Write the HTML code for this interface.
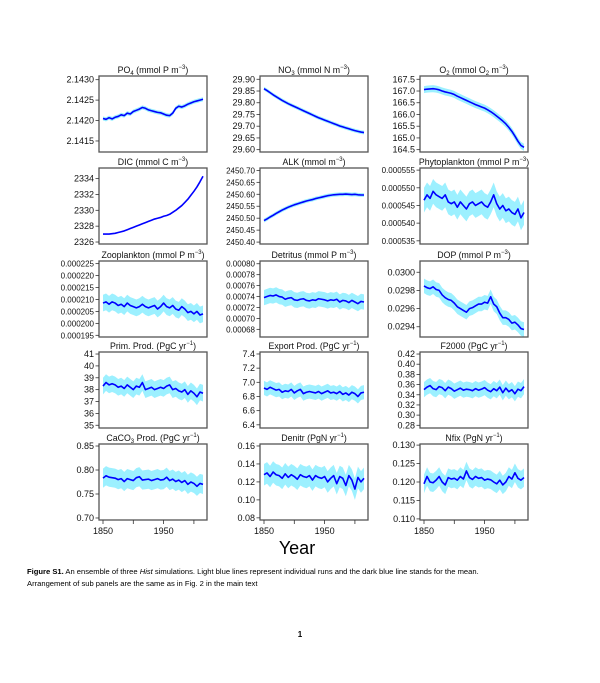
<!DOCTYPE html>
<html><head><meta charset="utf-8">
<style>
html,body{margin:0;padding:0;background:#fff;}
body{width:600px;height:683px;position:relative;overflow:hidden;}
svg{position:absolute;left:0;top:0;}
text{font-family:"Liberation Sans",sans-serif;}
</style></head>
<body>
<svg id="fig" width="600" height="683" viewBox="0 0 600 683">
<text x="297" y="554" font-size="18" text-anchor="middle">Year</text>
<text x="27" y="574" font-size="7.6" font-family="Liberation Serif"><tspan font-weight="bold">Figure S1.</tspan> An ensemble of three <tspan font-style="italic">Hist</tspan> simulations. Light blue lines represent individual runs and the dark blue line stands for the mean.</text>
<text x="27" y="586" font-size="7.6" font-family="Liberation Serif">Arrangement of sub panels are the same as in Fig. 2 in the main text</text>
<text x="300" y="637" font-size="8" font-weight="bold" font-family="Liberation Serif" text-anchor="middle">1</text>
</svg>
<script>
const years=[1850,1855,1860,1865,1870,1875,1880,1885,1890,1895,1900,1905,1910,1915,1920,1925,1930,1935,1940,1945,1950,1955,1960,1965,1970,1975,1980,1985,1990,1995,2000,2005,2010,2015];
const xTickYears=[1850,1900,1950,2000];
const xTickLabels=["1850","","1950",""];
const po4=[2.14205,2.14203,2.14207,2.14204,2.14208,2.14210,2.14214,2.14212,2.14218,2.14216,2.14222,2.14225,2.14228,2.14232,2.14230,2.14226,2.14224,2.14222,2.14220,2.14219,2.14216,2.14213,2.14212,2.14218,2.14230,2.14235,2.14233,2.14236,2.14240,2.14243,2.14246,2.14248,2.14250,2.14252];
const no3=[29.860,29.852,29.843,29.834,29.826,29.818,29.810,29.803,29.796,29.790,29.784,29.778,29.772,29.766,29.760,29.754,29.748,29.742,29.736,29.731,29.726,29.721,29.716,29.711,29.706,29.701,29.697,29.693,29.689,29.685,29.681,29.678,29.675,29.673];
const o2=[167.06,167.08,167.09,167.10,167.08,167.05,167.00,166.96,166.93,166.90,166.85,166.78,166.72,166.66,166.60,166.54,166.48,166.42,166.37,166.32,166.27,166.20,166.12,166.03,165.93,165.83,165.72,165.60,165.45,165.28,165.08,164.86,164.68,164.60];
const dic=[2327.0,2327.0,2327.0,2327.05,2327.1,2327.2,2327.3,2327.4,2327.55,2327.7,2327.85,2328.0,2328.15,2328.3,2328.45,2328.6,2328.75,2328.9,2329.0,2329.1,2329.25,2329.35,2329.5,2329.75,2330.0,2330.3,2330.6,2331.0,2331.4,2331.9,2332.4,2332.95,2333.6,2334.3];
const alk=[2450.490,2450.497,2450.505,2450.512,2450.520,2450.527,2450.534,2450.540,2450.546,2450.551,2450.556,2450.560,2450.564,2450.568,2450.572,2450.575,2450.578,2450.582,2450.585,2450.588,2450.591,2450.594,2450.596,2450.598,2450.599,2450.600,2450.600,2450.601,2450.600,2450.599,2450.600,2450.598,2450.597,2450.597];
const phyto=[546.5e-6,548e-6,547e-6,549e-6,548e-6,547.5e-6,547e-6,548e-6,546e-6,545.5e-6,546e-6,544.5e-6,546e-6,545e-6,544e-6,545.5e-6,546e-6,545e-6,545.5e-6,546e-6,545e-6,544.5e-6,546e-6,548e-6,545.5e-6,544e-6,545e-6,543.5e-6,544e-6,543e-6,542.5e-6,544e-6,541.5e-6,543e-6];
const zoo=[208.5e-6,209e-6,208e-6,209e-6,208.5e-6,207.5e-6,208e-6,207e-6,208.5e-6,207.5e-6,207e-6,206.5e-6,207e-6,208e-6,207e-6,206.5e-6,207e-6,207.5e-6,206e-6,207e-6,208.5e-6,207e-6,206.5e-6,207.5e-6,206e-6,205.5e-6,207e-6,206e-6,204.5e-6,205e-6,204e-6,205e-6,203.5e-6,204e-6];
const detritus=[738e-6,740e-6,742e-6,741e-6,743e-6,740e-6,739e-6,735e-6,737e-6,738e-6,734e-6,733e-6,735e-6,736e-6,733e-6,732e-6,734e-6,733e-6,736e-6,735e-6,734e-6,732e-6,734e-6,733e-6,735e-6,730e-6,733e-6,732e-6,729e-6,733e-6,730e-6,727e-6,731e-6,730e-6];
const dop=[0.02985,0.02983,0.02982,0.02984,0.02981,0.02980,0.02975,0.02972,0.02970,0.02969,0.02966,0.02962,0.02960,0.02958,0.02956,0.02960,0.02961,0.02963,0.02965,0.02965,0.02967,0.02966,0.02973,0.02965,0.02962,0.02955,0.02950,0.02950,0.02948,0.02944,0.02945,0.02942,0.02938,0.02937];
const primProd=[38.3,38.6,38.4,38.5,38.4,38.2,38.3,38.1,38.4,38.2,38.0,38.3,38.2,38.6,38.0,38.1,38.2,38.0,38.1,38.2,38.1,38.3,38.4,38.0,38.1,37.9,37.8,38.0,37.6,37.9,37.7,37.4,37.8,37.7];
const exportProd=[6.92,6.90,6.93,6.91,6.89,6.90,6.86,6.88,6.87,6.90,6.85,6.88,6.90,6.84,6.86,6.87,6.86,6.85,6.87,6.84,6.86,6.88,6.85,6.86,6.84,6.87,6.83,6.85,6.82,6.86,6.84,6.80,6.85,6.86];
const f2000=[0.350,0.355,0.358,0.352,0.350,0.356,0.354,0.348,0.355,0.352,0.347,0.350,0.353,0.349,0.351,0.350,0.348,0.352,0.349,0.351,0.354,0.349,0.346,0.352,0.348,0.355,0.344,0.353,0.346,0.350,0.342,0.351,0.348,0.356];
const caco3=[0.783,0.788,0.785,0.784,0.783,0.780,0.782,0.776,0.782,0.780,0.778,0.784,0.786,0.779,0.780,0.781,0.778,0.780,0.782,0.779,0.780,0.785,0.778,0.781,0.776,0.779,0.774,0.778,0.770,0.775,0.772,0.766,0.772,0.770];
const denitr=[0.128,0.130,0.126,0.131,0.128,0.127,0.124,0.129,0.125,0.128,0.126,0.123,0.128,0.126,0.125,0.127,0.122,0.127,0.125,0.124,0.126,0.120,0.124,0.127,0.118,0.126,0.124,0.116,0.127,0.122,0.112,0.125,0.120,0.124];
const nfix=[0.1195,0.1215,0.1200,0.1198,0.1205,0.1215,0.1200,0.1192,0.1212,0.1208,0.1210,0.1205,0.1215,0.1208,0.1230,0.1212,0.1207,0.1215,0.1210,0.1212,0.1205,0.1208,0.1206,0.1200,0.1195,0.1205,0.1192,0.1200,0.1215,0.1208,0.1225,0.1210,0.1205,0.1212];
const runSpreads=[0.00005,0.008,0.15,0.05,0.008,3.5e-6,3.5e-6,14e-6,0.00008,0.7,0.1,0.015,0.02,0.012,0.0025];
const tPO4=["2.1415","2.1420","2.1425","2.1430"];
const tNO3=["29.60","29.65","29.70","29.75","29.80","29.85","29.90"];
const tO2=["164.5","165.0","165.5","166.0","166.5","167.0","167.5"];
const tDIC=["2326","2328","2330","2332","2334"];
const tALK=["2450.40","2450.45","2450.50","2450.55","2450.60","2450.65","2450.70"];
const tPhyto=["0.000535","0.000540","0.000545","0.000550","0.000555"];
const tZoo=["0.000195","0.000200","0.000205","0.000210","0.000215","0.000220","0.000225"];
const tDet=["0.00068","0.00070","0.00072","0.00074","0.00076","0.00078","0.00080"];
const tDOP=["0.0294","0.0296","0.0298","0.0300"];
const tPrim=["35","36","37","38","39","40","41"];
const tExp=["6.4","6.6","6.8","7.0","7.2","7.4"];
const tF=["0.28","0.30","0.32","0.34","0.36","0.38","0.40","0.42"];
const tCa=["0.70","0.75","0.80","0.85"];
const tDen=["0.08","0.10","0.12","0.14","0.16"];
const tNfix=["0.110","0.115","0.120","0.125","0.130"];

const NS="http://www.w3.org/2000/svg";
const svg=document.getElementById('fig');
const colX=[99,260,420], rowY=[76,168,261,352,444], BW=108, BH=76;
const XMIN=1843.4, XMAX=2021.6;
const panels=[
 [[["PO",0],["4",1],[" (mmol P m",0],["−3",2],[")",0]],po4,tPO4,2.14123,2.14309,"po4"],
 [[["NO",0],["3",1],[" (mmol N m",0],["−3",2],[")",0]],no3,tNO3,29.590,29.914,"no3"],
 [[["O",0],["2",1],[" (mmol O",0],["2",1],[" m",0],["−3",2],[")",0]],o2,tO2,164.40,167.64,"o2"],
 [[["DIC (mmol C m",0],["−3",2],[")",0]],dic,tDIC,2325.75,2335.34,"dic"],
 [[["ALK (mmol m",0],["−3",2],[")",0]],alk,tALK,2450.392,2450.71,"alk"],
 [[["Phytoplankton (mmol P m",0],["−3",2],[")",0]],phyto,tPhyto,0.0005341,0.0005556,"phytoplankton"],
 [[["Zooplankton (mmol P m",0],["−3",2],[")",0]],zoo,tZoo,0.0001943,0.0002261,"zooplankton"],
 [[["Detritus (mmol P m",0],["−3",2],[")",0]],detritus,tDet,0.000666,0.000805,"detritus"],
 [[["DOP (mmol P m",0],["−3",2],[")",0]],dop,tDOP,0.029287,0.030124,"dop"],
 [[["Prim. Prod. (PgC yr",0],["−1",2],[")",0]],primProd,tPrim,34.77,41.17,"prim-prod"],
 [[["Export Prod. (PgC yr",0],["−1",2],[")",0]],exportProd,tExp,6.355,7.428,"export-prod"],
 [[["F2000 (PgC yr",0],["−1",2],[")",0]],f2000,tF,0.2747,0.424,"f2000"],
 [[["CaCO",0],["3",1],[" Prod. (PgC yr",0],["−1",2],[")",0]],caco3,tCa,0.6958,0.8542,"caco3-prod"],
 [[["Denitr (PgN yr",0],["−1",2],[")",0]],denitr,tDen,0.0776,0.1622,"denitr"],
 [[["Nfix (PgN yr",0],["−1",2],[")",0]],nfix,tNfix,0.1097,0.1303,"nfix"]
];
function mk(tag,attrs,parent){const e=document.createElementNS(NS,tag);for(const k in attrs)e.setAttribute(k,attrs[k]);(parent||svg).appendChild(e);return e;}
panels.forEach((p,i)=>{
  const [title,data,ticks,lo,hi,key]=p;
  const bx=colX[i%3], by=rowY[Math.floor(i/3)];
  const xs=v=>bx+(v-XMIN)/(XMAX-XMIN)*BW;
  const ys=v=>by+BH-(v-lo)/(hi-lo)*BH;
  const g=mk('g',{});
  
  
  const sp=runSpreads[i];
  let up=data.map((v,j)=>xs(years[j]).toFixed(2)+','+ys(v+sp).toFixed(2));
  let dn=data.map((v,j)=>xs(years[j]).toFixed(2)+','+ys(v-sp).toFixed(2)).reverse();
  const band=mk('polygon',{points:up.concat(dn).join(' '),fill:'#9cf0ff',stroke:'none'},g);
  
  
  const line=mk('polyline',{points:data.map((v,j)=>xs(years[j]).toFixed(2)+','+ys(v).toFixed(2)).join(' '),fill:'none',stroke:'#0000ff','stroke-width':1.6,'stroke-linejoin':'round'},g);
  
  
  const box=mk('rect',{x:bx,y:by,width:BW,height:BH,fill:'none',stroke:'#555','stroke-width':1.3},g);
  
  
  ticks.forEach(t=>{
    const y=ys(parseFloat(t));
    mk('line',{x1:bx-3.5,x2:bx,y1:y,y2:y,stroke:'#333','stroke-width':0.8},g);
    const tx=mk('text',{x:bx-5,y:y+3,'font-size':ticks[0].length>6?8:9,'text-anchor':'end',fill:'#111'},g);
    tx.textContent=t;
    
    
  });
  if(Math.floor(i/3)===4){
    xTickYears.forEach((yr,k)=>{
      const x=xs(yr);
      mk('line',{x1:x,x2:x,y1:by+BH,y2:by+BH+4,stroke:'#333','stroke-width':0.8},g);
      if(xTickLabels[k]){
        const tx=mk('text',{x:x,y:by+BH+14,'font-size':9,'text-anchor':'middle',fill:'#111'},g);
        tx.textContent=xTickLabels[k];
        
        
      }
    });
  }
  const tt=mk('text',{x:bx+BW/2,y:by-3,'font-size':8.8,'text-anchor':'middle',fill:'#111'},g);
  
  
  title.forEach(([s,kind])=>{
    const ts=mk('tspan',{},tt);
    if(kind===1){ts.setAttribute('font-size','6');ts.setAttribute('baseline-shift','-2');}
    if(kind===2){ts.setAttribute('font-size','6');ts.setAttribute('baseline-shift','4');}
    ts.textContent=s;
  });
});
</script>
</body></html>
